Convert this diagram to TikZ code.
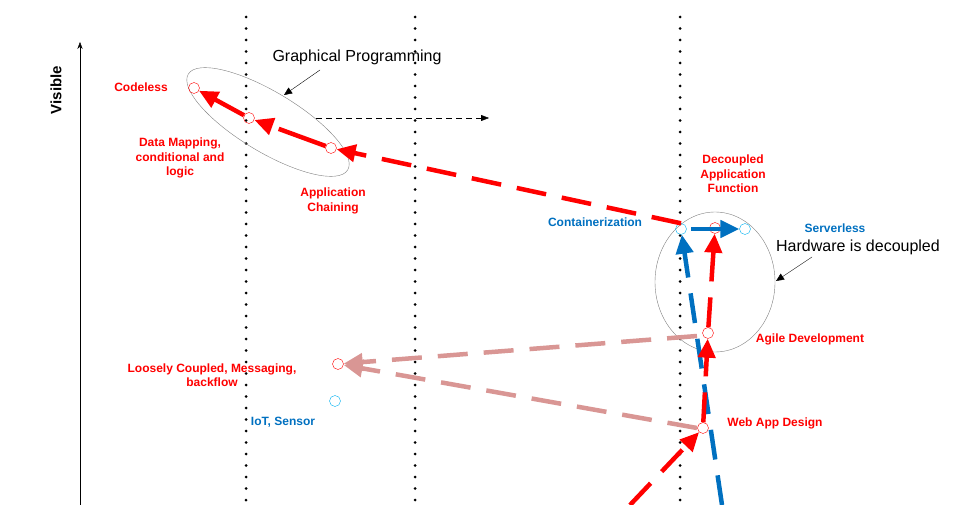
\documentclass[tikz,border=0pt]{standalone}
\usepackage{fontspec}
\setmainfont{Liberation Sans}
\usetikzlibrary{arrows.meta}
\definecolor{red1}{HTML}{FF0000}
\definecolor{blue1}{HTML}{0070C0}
\definecolor{pink1}{HTML}{D99694}
\definecolor{cyan1}{HTML}{00B0F0}
\begin{document}
\begin{tikzpicture}[x=1pt, y=-1pt,
    lab/.style={font=\fontsize{12}{14.5}\selectfont\bfseries, align=center},
    dot/.style={circle, draw, thin, inner sep=0pt, minimum size=11pt},
    big/.style={line width=4.5pt, -{Triangle[length=19pt, width=17pt]}},
    longdash/.style={dash pattern=on 30pt off 16pt}]
    \useasboundingbox (0,0) rectangle (961,505);
    % Dotted time columns
    \foreach \x in {246,415,680} {
        \draw[line width=3pt, dash pattern=on 0pt off 11.5pt, line cap=round] (\x,17) -- (\x,505);
    }
    % Vertical axis
    \draw[-{Stealth[length=7pt]}] (80,505) -- (80,42);
    \node[rotate=90, font=\fontsize{15}{17}\selectfont\bfseries] (vis) at (56,90) {Visible};
    % Ellipses
    \draw[gray, thin, rotate around={-31:(268,122)}] (268,122) ellipse [x radius=93pt, y radius=30pt];
    \draw[gray, thin] (715,282) ellipse [x radius=60pt, y radius=70pt];
    % Points
    \node[dot, red1] (cod) at (194,88) {};
    \node[dot, red1] (map) at (249,118) {};
    \node[dot, red1] (chain) at (331,148) {};
    \node[dot, cyan1] (cont) at (681,229) {};
    \node[dot, red1] (dec) at (715,228) {};
    \node[dot, cyan1] (serv) at (745,229) {};
    \node[dot, red1] (agile) at (708,333) {};
    \node[dot, red1] (web) at (703,428) {};
    \node[dot, red1] (loose) at (338,364) {};
    \node[dot, cyan1] (iot) at (335,401) {};
    \coordinate (bstart) at (722,505);
    \coordinate (rstart) at (630,505);
    % Labels
    \node[lab, red1] at (141,87) {Codeless};
    \node[lab, red1] at (180,158) {Data Mapping,\\conditional and\\logic};
    \node[lab, red1] at (333,201) {Application\\Chaining};
    \node[lab, red1] at (733,174) {Decoupled\\Application\\Function};
    \node[lab, blue1] at (595,222) {Containerization};
    \node[lab, blue1] at (835,228) {Serverless};
    \node[lab, red1] at (810,339) {Agile Development};
    \node[lab, red1] at (212,375) {Loosely Coupled, Messaging,\\backflow};
    \node[lab, blue1] at (283,422) {IoT, Sensor};
    \node[lab, red1] at (775,423) {Web App Design};
    \node[font=\fontsize{16}{18}\selectfont] (gp) at (357,57) {Graphical Programming};
    \node[font=\fontsize{16}{18}\selectfont] (hw) at (858,247) {Hardware is decoupled};
    % Callout arrows
    \draw[-{Triangle[length=8pt, width=7pt]}] (320,70) -- (284,95);
    \draw[-{Triangle[length=8pt, width=7pt]}] (812,257) -- (776,281);
    \draw[dash pattern=on 6pt off 4pt, -{Triangle[length=8pt, width=6pt]}] (316,118) -- (489,118);
    % Pink paths
    \draw[big, pink1, longdash] (697,336) -- (loose);
    \draw[big, pink1, longdash] (697,428) -- (loose);
    % Blue paths
    \draw[big, blue1, longdash] (bstart) -- (cont);
    \draw[big, blue1] (691,229) -- (serv);
    % Red paths
    \draw[big, red1, longdash] (rstart) -- (web);
    \draw[big, red1, longdash] (web) -- (agile);
    \draw[big, red1, longdash] (agile) -- (dec);
    \draw[big, red1, longdash] (cont.north) -- (chain);
    \draw[big, red1, dash pattern=on 50pt off 14pt] (chain) -- (map);
    \draw[big, red1] (map) -- (cod);
\end{tikzpicture}
\end{document}
